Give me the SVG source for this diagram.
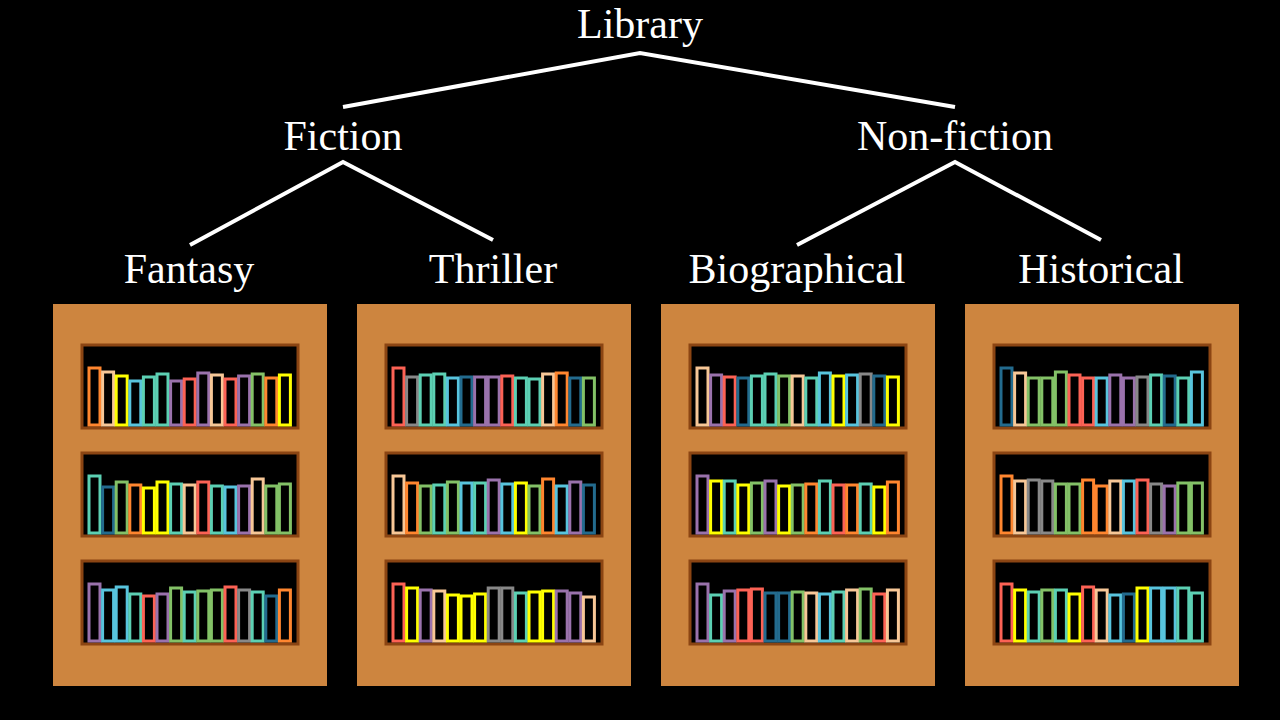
<svg xmlns="http://www.w3.org/2000/svg" width="1280" height="720" viewBox="0 0 1280 720">
<style>
text{font-family:"Liberation Serif","DejaVu Serif",serif;fill:#fff;text-anchor:middle}
.t1{font-size:42px}.t2{font-size:42px}
.case{fill:#CD853F}
.shelf{fill:#000;stroke:#8B4513;stroke-width:3}
.bk rect{fill:#000;stroke-width:3;width:11px}
.o{stroke:#FF862F}.p{stroke:#F7C797}.y{stroke:#FFFF00}.b{stroke:#58C4DD}.t{stroke:#5CD0B3}.u{stroke:#9A72AC}.r{stroke:#FC6255}.g{stroke:#83C167}.k{stroke:#888888}.d{stroke:#236B8E}
</style>
<defs>
<g id="s"><rect class="shelf" x="0" y="0" width="216" height="83"/></g>
</defs>
<rect width="1280" height="720" fill="#000"/>
<g id="connectors" stroke="#fff" stroke-width="4" fill="none">
<path d="M343,107 L640,53 L955,107"/>
<path d="M190,245 L343,162 L493,240"/>
<path d="M797,245 L955,162 L1101,240"/>
</g>
<g id="library"><text class="t1" x="640" y="38">Library</text></g>
<g id="fiction"><text class="t2" x="343" y="150">Fiction</text></g>
<g id="nonfiction"><text class="t2" x="955" y="150">Non-fiction</text></g>
<g id="fantasy"><text class="t2" x="189" y="283">Fantasy</text></g>
<g id="thriller"><text class="t2" x="493" y="283">Thriller</text></g>
<g id="biographical"><text class="t2" x="797" y="283">Biographical</text></g>
<g id="historical"><text class="t2" x="1101" y="283">Historical</text></g>

<g id="case1">
<rect class="case" x="53" y="304" width="274" height="382"/>
<g transform="translate(82,345)"><use href="#s"/><g class="bk">
<rect class="o" x="7" y="23" height="57"/><rect class="p" x="20.6" y="27" height="53"/><rect class="y" x="34.2" y="31" height="49"/><rect class="b" x="47.8" y="36" height="44"/><rect class="t" x="61.4" y="32" height="48"/><rect class="t" x="75" y="29" height="51"/><rect class="u" x="88.6" y="36" height="44"/><rect class="r" x="102.2" y="34" height="46"/><rect class="u" x="115.8" y="28" height="52"/><rect class="p" x="129.4" y="30" height="50"/><rect class="r" x="143" y="34" height="46"/><rect class="u" x="156.6" y="31" height="49"/><rect class="g" x="170.2" y="29" height="51"/><rect class="o" x="183.8" y="33" height="47"/><rect class="y" x="197.4" y="30" height="50"/></g></g>
<g transform="translate(82,453)"><use href="#s"/><g class="bk">
<rect class="t" x="7" y="23" height="57"/><rect class="d" x="20.6" y="34" height="46"/><rect class="g" x="34.2" y="29" height="51"/><rect class="o" x="47.8" y="32" height="48"/><rect class="y" x="61.4" y="35" height="45"/><rect class="y" x="75" y="29" height="51"/><rect class="t" x="88.6" y="31" height="49"/><rect class="p" x="102.2" y="32" height="48"/><rect class="r" x="115.8" y="29" height="51"/><rect class="t" x="129.4" y="33" height="47"/><rect class="b" x="143" y="34" height="46"/><rect class="u" x="156.6" y="33" height="47"/><rect class="p" x="170.2" y="26" height="54"/><rect class="g" x="183.8" y="33" height="47"/><rect class="g" x="197.4" y="31" height="49"/></g></g>
<g transform="translate(82,561)"><use href="#s"/><g class="bk">
<rect class="u" x="7" y="23" height="57"/><rect class="b" x="20.6" y="29" height="51"/><rect class="b" x="34.2" y="26" height="54"/><rect class="t" x="47.8" y="33" height="47"/><rect class="r" x="61.4" y="35" height="45"/><rect class="u" x="75" y="33" height="47"/><rect class="g" x="88.6" y="27" height="53"/><rect class="t" x="102.2" y="31" height="49"/><rect class="g" x="115.8" y="30" height="50"/><rect class="g" x="129.4" y="29" height="51"/><rect class="r" x="143" y="26" height="54"/><rect class="k" x="156.6" y="29" height="51"/><rect class="t" x="170.2" y="31" height="49"/><rect class="d" x="183.8" y="35" height="45"/><rect class="o" x="197.4" y="29" height="51"/></g></g>
</g>

<g id="case2">
<rect class="case" x="357" y="304" width="274" height="382"/>
<g transform="translate(386,345)"><use href="#s"/><g class="bk">
<rect class="r" x="7" y="23" height="57"/><rect class="k" x="20.6" y="32" height="48"/><rect class="t" x="34.2" y="30" height="50"/><rect class="t" x="47.8" y="29" height="51"/><rect class="b" x="61.4" y="33" height="47"/><rect class="d" x="75" y="32" height="48"/><rect class="u" x="88.6" y="32" height="48"/><rect class="u" x="102.2" y="32" height="48"/><rect class="r" x="115.8" y="31" height="49"/><rect class="t" x="129.4" y="33" height="47"/><rect class="t" x="143" y="34" height="46"/><rect class="p" x="156.6" y="29" height="51"/><rect class="o" x="170.2" y="28" height="52"/><rect class="d" x="183.8" y="33" height="47"/><rect class="g" x="197.4" y="33" height="47"/></g></g>
<g transform="translate(386,453)"><use href="#s"/><g class="bk">
<rect class="p" x="7" y="23" height="57"/><rect class="o" x="20.6" y="30" height="50"/><rect class="g" x="34.2" y="33" height="47"/><rect class="t" x="47.8" y="32" height="48"/><rect class="g" x="61.4" y="29" height="51"/><rect class="b" x="75" y="30" height="50"/><rect class="t" x="88.6" y="30" height="50"/><rect class="u" x="102.2" y="27" height="53"/><rect class="b" x="115.8" y="31" height="49"/><rect class="y" x="129.4" y="30" height="50"/><rect class="g" x="143" y="33" height="47"/><rect class="o" x="156.6" y="26" height="54"/><rect class="b" x="170.2" y="33" height="47"/><rect class="u" x="183.8" y="29" height="51"/><rect class="d" x="197.4" y="32" height="48"/></g></g>
<g transform="translate(386,561)"><use href="#s"/><g class="bk">
<rect class="r" x="7" y="23" height="57"/><rect class="y" x="20.6" y="27" height="53"/><rect class="u" x="34.2" y="29" height="51"/><rect class="p" x="47.8" y="30" height="50"/><rect class="y" x="61.4" y="34" height="46"/><rect class="y" x="75" y="35" height="45"/><rect class="y" x="88.6" y="33" height="47"/><rect class="k" x="102.2" y="27" height="53"/><rect class="k" x="115.8" y="27" height="53"/><rect class="t" x="129.4" y="32" height="48"/><rect class="y" x="143" y="31" height="49"/><rect class="y" x="156.6" y="30" height="50"/><rect class="u" x="170.2" y="30" height="50"/><rect class="u" x="183.8" y="32" height="48"/><rect class="p" x="197.4" y="36" height="44"/></g></g>
</g>

<g id="case3">
<rect class="case" x="661" y="304" width="274" height="382"/>
<g transform="translate(690,345)"><use href="#s"/><g class="bk">
<rect class="p" x="7" y="23" height="57"/><rect class="u" x="20.6" y="30" height="50"/><rect class="r" x="34.2" y="32" height="48"/><rect class="d" x="47.8" y="33" height="47"/><rect class="t" x="61.4" y="31" height="49"/><rect class="t" x="75" y="29" height="51"/><rect class="g" x="88.6" y="31" height="49"/><rect class="p" x="102.2" y="31" height="49"/><rect class="t" x="115.8" y="33" height="47"/><rect class="b" x="129.4" y="28" height="52"/><rect class="y" x="143" y="31" height="49"/><rect class="b" x="156.6" y="30" height="50"/><rect class="k" x="170.2" y="29" height="51"/><rect class="d" x="183.8" y="31" height="49"/><rect class="y" x="197.4" y="32" height="48"/></g></g>
<g transform="translate(690,453)"><use href="#s"/><g class="bk">
<rect class="u" x="7" y="23" height="57"/><rect class="y" x="20.6" y="28" height="52"/><rect class="t" x="34.2" y="28" height="52"/><rect class="y" x="47.8" y="32" height="48"/><rect class="g" x="61.4" y="30" height="50"/><rect class="u" x="75" y="28" height="52"/><rect class="y" x="88.6" y="33" height="47"/><rect class="g" x="102.2" y="32" height="48"/><rect class="o" x="115.8" y="31" height="49"/><rect class="t" x="129.4" y="28" height="52"/><rect class="r" x="143" y="32" height="48"/><rect class="o" x="156.6" y="32" height="48"/><rect class="t" x="170.2" y="31" height="49"/><rect class="y" x="183.8" y="34" height="46"/><rect class="o" x="197.4" y="29" height="51"/></g></g>
<g transform="translate(690,561)"><use href="#s"/><g class="bk">
<rect class="u" x="7" y="23" height="57"/><rect class="t" x="20.6" y="34" height="46"/><rect class="u" x="34.2" y="30" height="50"/><rect class="r" x="47.8" y="29" height="51"/><rect class="r" x="61.4" y="28" height="52"/><rect class="d" x="75" y="32" height="48"/><rect class="d" x="88.6" y="32" height="48"/><rect class="g" x="102.2" y="31" height="49"/><rect class="p" x="115.8" y="32" height="48"/><rect class="b" x="129.4" y="33" height="47"/><rect class="t" x="143" y="31" height="49"/><rect class="p" x="156.6" y="29" height="51"/><rect class="g" x="170.2" y="28" height="52"/><rect class="r" x="183.8" y="33" height="47"/><rect class="p" x="197.4" y="29" height="51"/></g></g>
</g>

<g id="case4">
<rect class="case" x="965" y="304" width="274" height="382"/>
<g transform="translate(994,345)"><use href="#s"/><g class="bk">
<rect class="d" x="7" y="23" height="57"/><rect class="p" x="20.6" y="28" height="52"/><rect class="g" x="34.2" y="33" height="47"/><rect class="g" x="47.8" y="33" height="47"/><rect class="g" x="61.4" y="27" height="53"/><rect class="r" x="75" y="30" height="50"/><rect class="r" x="88.6" y="33" height="47"/><rect class="b" x="102.2" y="33" height="47"/><rect class="u" x="115.8" y="30" height="50"/><rect class="u" x="129.4" y="33" height="47"/><rect class="k" x="143" y="32" height="48"/><rect class="t" x="156.6" y="30" height="50"/><rect class="d" x="170.2" y="31" height="49"/><rect class="t" x="183.8" y="33" height="47"/><rect class="b" x="197.4" y="27" height="53"/></g></g>
<g transform="translate(994,453)"><use href="#s"/><g class="bk">
<rect class="o" x="7" y="23" height="57"/><rect class="p" x="20.6" y="28" height="52"/><rect class="k" x="34.2" y="27" height="53"/><rect class="k" x="47.8" y="28" height="52"/><rect class="g" x="61.4" y="31" height="49"/><rect class="g" x="75" y="31" height="49"/><rect class="o" x="88.6" y="27" height="53"/><rect class="o" x="102.2" y="33" height="47"/><rect class="p" x="115.8" y="28" height="52"/><rect class="b" x="129.4" y="28" height="52"/><rect class="r" x="143" y="27" height="53"/><rect class="k" x="156.6" y="31" height="49"/><rect class="u" x="170.2" y="33" height="47"/><rect class="g" x="183.8" y="30" height="50"/><rect class="g" x="197.4" y="30" height="50"/></g></g>
<g transform="translate(994,561)"><use href="#s"/><g class="bk">
<rect class="r" x="7" y="23" height="57"/><rect class="y" x="20.6" y="29" height="51"/><rect class="t" x="34.2" y="31" height="49"/><rect class="g" x="47.8" y="29" height="51"/><rect class="t" x="61.4" y="29" height="51"/><rect class="y" x="75" y="33" height="47"/><rect class="r" x="88.6" y="26" height="54"/><rect class="p" x="102.2" y="29" height="51"/><rect class="b" x="115.8" y="34" height="46"/><rect class="d" x="129.4" y="33" height="47"/><rect class="y" x="143" y="27" height="53"/><rect class="b" x="156.6" y="27" height="53"/><rect class="b" x="170.2" y="27" height="53"/><rect class="t" x="183.8" y="27" height="53"/><rect class="t" x="197.4" y="32" height="48"/></g></g>
</g>
</svg>
